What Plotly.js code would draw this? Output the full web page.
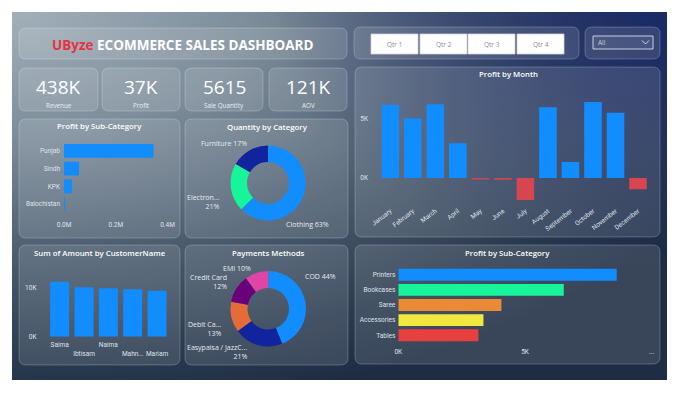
<!DOCTYPE html>
<html>
<head>
<meta charset="utf-8">
<script src="https://cdn.plot.ly/plotly-3.0.1.min.js"></script>
<style>
  html, body { margin:0; padding:0; background:#ffffff; }
  #wrap { position:relative; width:680px; height:393px; overflow:hidden; }
  #bg { position:absolute; left:12px; top:12px; width:655px; height:368px;
        background:
          radial-gradient(ellipse 60% 70% at 100% 0%, rgba(22,38,105,0.85) 0%, rgba(22,38,105,0) 100%),
          radial-gradient(ellipse 120% 110% at 0% 0%, #a2b0ba 0%, #7d8d9b 30%, #4c5d70 60%, #2b3b50 85%, #1e2d44 100%);
  }
  #chart { position:absolute; left:0; top:0; width:680px; height:393px; }
</style>
</head>
<body>
<div id="wrap"><div id="bg"></div><div id="chart"></div></div>
<script>
// ---------------- DATA ----------------
const kpiValues = ['438K', '37K', '5615', '121K'];
const kpiLabels = ['Revenue', 'Profit', 'Sale Quantity', 'AOV'];
const quarters = ['Qtr 1', 'Qtr 2', 'Qtr 3', 'Qtr 4'];
const filterValue = 'All';

const provinces = ['Punjab', 'Sindh', 'KPK', 'Balochistan'];
const provinceProfit = [346000, 58000, 31000, 4000];
const provinceTickVals = [0, 200000, 400000];
const provinceTickText = ['0.0M', '0.2M', '0.4M'];

const categories = ['Clothing', 'Electron...', 'Furniture'];
const categoryQty = [3516, 1172, 927];

const months = ['January','February','March','April','May','June','July','August','September','October','November','December'];
const monthProfit = [6200, 5050, 6250, 2950, -120, -150, -1860, 6000, 1360, 6440, 5530, -960];
const monthTickVals = [0, 5000];
const monthTickText = ['0K', '5K'];

const customers = ['Saima', 'Ibtisam', 'Naima', 'Mahn...', 'Mariam'];
const customerAmount = [11200, 10100, 9900, 9700, 9400];
const customerTickVals = [0, 10000];
const customerTickText = ['0K', '10K'];

const payMethods = ['COD', 'Easypaisa / JazzC...', 'Debit Ca...', 'Credit Card', 'EMI'];
const payShare = [44, 21, 13, 12, 10];

const subCats = ['Printers', 'Bookcases', 'Saree', 'Accessories', 'Tables'];
const subCatProfit = [8620, 6530, 4070, 3360, 3160];
const subCatTickVals = [0, 5000, 10000];
const subCatTickText = ['0K', '5K', '...'];

// ---------------- LAYOUT HELPERS ----------------
const W = 680, H = 393;
const dx = (a, b) => [a / W, b / W];
const dy = (t, b) => [1 - b / H, 1 - t / H];
const PX = x => x / W, PY = y => 1 - y / H;

function rr(x0, y0, x1, y1, r) {
  const p = (x, y) => PX(x) + ',' + PY(y);
  return 'M' + p(x0 + r, y0) + ' L' + p(x1 - r, y0) + ' Q' + p(x1, y0) + ' ' + p(x1, y0 + r) +
    ' L' + p(x1, y1 - r) + ' Q' + p(x1, y1) + ' ' + p(x1 - r, y1) +
    ' L' + p(x0 + r, y1) + ' Q' + p(x0, y1) + ' ' + p(x0, y1 - r) +
    ' L' + p(x0, y0 + r) + ' Q' + p(x0, y0) + ' ' + p(x0 + r, y0) + ' Z';
}

const BLUE = '#118DFF', RED = '#D64550', NAVY = '#12239E', GREEN = '#16F59A',
      ORANGE = '#E98A35', PURPLE = '#6B007B', PINK = '#E044A7', YELLOW = '#F2E640', RED2 = '#E8403F';
const FONT = 'Open Sans, DejaVu Sans, sans-serif';
const TICKFONT = { family: 'Roboto, sans-serif', size: 6.5, color: '#DDE3EA' };

const shapes = [];
const panelFill = 'rgba(255,255,255,0.12)', panelLine = 'rgba(255,255,255,0.22)';
const panels = [
  [19, 28, 347, 59], [19, 68, 98, 111], [102, 68, 180, 111], [185, 68, 263, 111], [269, 68, 347, 111],
  [354, 27, 579, 59], [585, 27, 660, 59],
  [355, 67, 660, 237], [19, 119, 180, 238], [185, 119, 348, 238],
  [19, 245, 180, 365], [185, 245, 348, 365], [355, 245, 660, 364]
];
panels.forEach(b => shapes.push({ type: 'path', xref: 'paper', yref: 'paper', path: rr(b[0], b[1], b[2], b[3], 7),
  fillcolor: panelFill, line: { color: panelLine, width: 1 }, layer: 'below' }));

// quarter buttons
const btnX = [371, 420, 468, 517], btnW = 47;
btnX.forEach(x => shapes.push({ type: 'rect', xref: 'paper', yref: 'paper', x0: PX(x), x1: PX(x + btnW), y0: PY(54), y1: PY(34),
  fillcolor: '#FFFFFF', line: { color: '#D0D4DA', width: 0.8 }, layer: 'below' }));
// dropdown
shapes.push({ type: 'rect', xref: 'paper', yref: 'paper', x0: PX(593), x1: PX(653), y0: PY(49), y1: PY(36),
  fillcolor: 'rgba(255,255,255,0.08)', line: { color: 'rgba(225,230,238,0.85)', width: 1 } });
shapes.push({ type: 'path', xref: 'paper', yref: 'paper',
  path: 'M' + PX(642) + ',' + PY(40.5) + ' L' + PX(645.5) + ',' + PY(44) + ' L' + PX(649) + ',' + PY(40.5),
  line: { color: 'rgba(225,230,238,0.9)', width: 1 } });

// ---------------- ANNOTATIONS ----------------
const ann = [];
const txt = (x, y, text, size, color, opts) => ann.push(Object.assign({ xref: 'paper', yref: 'paper', x: PX(x), y: PY(y),
  text: text, showarrow: false, xanchor: 'center', yanchor: 'middle',
  font: { family: FONT, size: size, color: color } }, opts || {}));

txt(183, 45.5, '<span style="color:#E8333F">UByze</span> ECOMMERCE SALES DASHBOARD', 13.5, '#FFFFFF', { font: { family: FONT, size: 13.5, color: '#FFFFFF', weight: 700 } });
const kpiCx = [58.5, 141, 224, 308];
kpiValues.forEach((v, i) => {
  txt(kpiCx[i], 86.5, v, 19, '#FFFFFF', { font: { family: FONT, size: 19, color: '#FFFFFF', weight: 500 } });
  txt(kpiCx[i], 105, kpiLabels[i], 6.3, '#E8EDF2');
});
quarters.forEach((q, i) => txt(btnX[i] + btnW / 2, 44, q, 6.5, '#8A8F96'));
txt(596, 42.5, filterValue, 6.5, '#C8CED8', { xanchor: 'left' });

const tFont = s => ({ family: FONT, size: s, color: '#FFFFFF', weight: 600 });
[['Profit by Sub-Category', 99.5, 125.7], ['Quantity by Category', 267.7, 127.3], ['Profit by Month', 508, 74],
 ['Sum of Amount by CustomerName', 100, 252.7], ['Payments Methods', 268, 252.7], ['Profit by Sub-Category', 507.7, 252.7]]
  .forEach(t => txt(t[1], t[2], t[0], 7.8, '#FFFFFF', { font: tFont(7.8) }));

// donut labels
function pct(arr) { const s = arr.reduce((a, b) => a + b, 0); return arr.map(v => Math.round(v / s * 100)); }
const lblFont = { family: FONT, size: 7, color: '#E6EAEF' };
const catPct = pct(categoryQty);
const catPos = [[284, 225, 'left', false], [222, 202, 'right', true], [249, 143.3, 'right', false]];
categories.forEach((c, i) => {
  const p = catPos[i];
  txt(p[0], p[1], c + (p[3] ? '<br>' : ' ') + catPct[i] + '%', 7, '#E6EAEF', { xanchor: p[2], align: p[2], font: lblFont });
});
const payPct = pct(payShare);
const payPos = [[302.7, 276.7, 'left', false], [249.3, 351.5, 'right', true], [222.7, 328.8, 'right', true],
                [228.7, 282, 'right', true], [252.7, 268.7, 'right', false]];
payMethods.forEach((c, i) => {
  const p = payPos[i];
  txt(p[0], p[1], c + (p[3] ? '<br>' : ' ') + payPct[i] + '%', 7, '#E6EAEF', { xanchor: p[2], align: p[2], font: lblFont });
});

// ---------------- TRACES ----------------
const traces = [
  { type: 'bar', orientation: 'h', y: provinces, x: provinceProfit, xaxis: 'x', yaxis: 'y',
    marker: { color: BLUE }, hoverinfo: 'none' },
  { type: 'bar', x: months, y: monthProfit, xaxis: 'x2', yaxis: 'y2',
    marker: { color: monthProfit.map(v => v < 0 ? RED : BLUE) }, hoverinfo: 'none' },
  { type: 'bar', x: customers, y: customerAmount, xaxis: 'x3', yaxis: 'y3',
    marker: { color: BLUE }, hoverinfo: 'none' },
  { type: 'bar', orientation: 'h', y: subCats, x: subCatProfit, xaxis: 'x4', yaxis: 'y4',
    marker: { color: [BLUE, GREEN, ORANGE, YELLOW, RED2] }, hoverinfo: 'none' },
  { type: 'pie', labels: categories, values: categoryQty, hole: 0.56, sort: false, direction: 'clockwise', rotation: 0,
    marker: { colors: [BLUE, GREEN, NAVY], line: { width: 0 } }, textinfo: 'none', hoverinfo: 'none',
    domain: { x: dx(230.5, 305.5), y: dy(145.5, 220.5) } },
  { type: 'pie', labels: payMethods, values: payShare, hole: 0.55, sort: false, direction: 'clockwise', rotation: 0,
    marker: { colors: [BLUE, NAVY, '#E66C37', PURPLE, PINK], line: { width: 0 } }, textinfo: 'none', hoverinfo: 'none',
    domain: { x: dx(230.5, 306), y: dy(271, 346.5) } }
];

const base = { showgrid: false, zeroline: false, showline: false, ticks: '', tickfont: TICKFONT, fixedrange: true };
const cust2 = customers.map((c, i) => (i % 2 === 1 || i === customers.length - 1) ? '<br>' + c : c);

const layout = {
  width: W, height: H, margin: { l: 0, r: 0, t: 0, b: 0 },
  paper_bgcolor: 'rgba(0,0,0,0)', plot_bgcolor: 'rgba(0,0,0,0)',
  showlegend: false, bargap: 0.22, font: { family: FONT },
  xaxis: Object.assign({}, base, { domain: dx(64, 167.5), range: [0, 400000], tickvals: provinceTickVals, ticktext: provinceTickText, ticklabelstandoff: 6 }),
  yaxis: Object.assign({}, base, { domain: dy(142, 213), autorange: 'reversed', ticklabelstandoff: 3, anchor: 'x' }),
  xaxis2: Object.assign({}, base, { domain: dx(379, 649.3), anchor: 'y2', tickangle: -38, ticklabelstandoff: 1 }),
  yaxis2: Object.assign({}, base, { domain: dy(88, 204), range: [-2203, 7627], tickvals: monthTickVals, ticktext: monthTickText, anchor: 'x2', ticklabelstandoff: 10 }),
  xaxis3: Object.assign({}, base, { domain: dx(47.5, 169.2), anchor: 'y3', tickvals: customers, ticktext: cust2, ticklabelstandoff: 3 }),
  yaxis3: Object.assign({}, base, { domain: dy(275, 336.7), range: [0, 12592], tickvals: customerTickVals, ticktext: customerTickText, anchor: 'x3', ticklabelstandoff: 10 }),
  xaxis4: Object.assign({}, base, { domain: dx(398.3, 651.7), range: [0, 10000], tickvals: subCatTickVals, ticktext: subCatTickText, anchor: 'y4', ticklabelstandoff: 4 }),
  yaxis4: Object.assign({}, base, { domain: dy(267.2, 342.8), autorange: 'reversed', anchor: 'x4', ticklabelstandoff: 2 }),
  shapes: shapes,
  annotations: ann
};

Plotly.newPlot('chart', traces, layout, { staticPlot: true, displayModeBar: false });
</script>
</body>
</html>
